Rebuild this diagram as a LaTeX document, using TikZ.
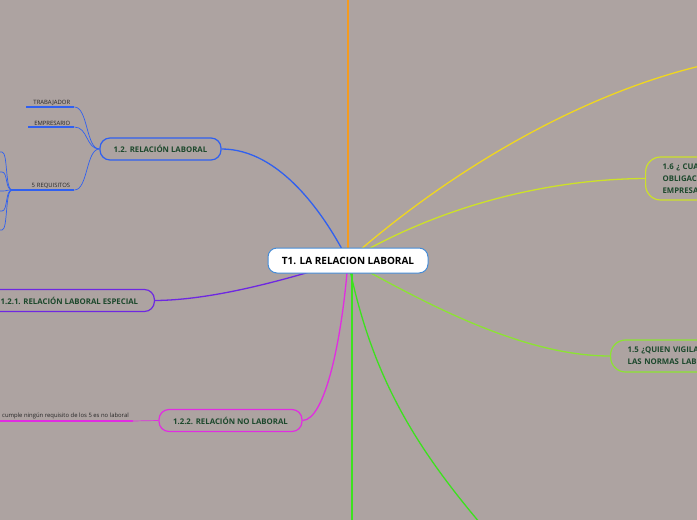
\documentclass[tikz,border=0pt]{standalone}
\usepackage{fontspec}
\setmainfont{Open Sans}
\usetikzlibrary{positioning}
\definecolor{bgcol}{RGB}{173,163,161}
\definecolor{rootblue}{RGB}{70,140,215}
\definecolor{txtgreen}{RGB}{28,72,44}
\definecolor{blueb}{RGB}{48,96,240}
\definecolor{purpleb}{RGB}{110,40,225}
\definecolor{magentab}{RGB}{225,45,225}
\definecolor{orangeb}{RGB}{245,155,30}
\definecolor{greenb}{RGB}{60,225,30}
\definecolor{lightgreenb}{RGB}{140,228,50}
\definecolor{limeb}{RGB}{205,225,40}
\definecolor{yellowb}{RGB}{240,215,30}
\pgfdeclarelayer{bg}
\pgfdeclarelayer{links}
\pgfsetlayers{bg,links,main}

\begin{document}
\begin{tikzpicture}[x=1pt,y=-1pt]
        \tikzstyle{rootnode} = [draw=rootblue, line width=1pt, fill=white, rounded corners=9pt, minimum width=160pt, minimum height=25pt, inner sep=2pt, font=\fontsize{10}{11}\selectfont\bfseries]
        \tikzstyle{bnode} = [line width=1.2pt, rounded corners=10pt, fill=bgcol, text=txtgreen, minimum height=22pt, inner sep=2pt, font=\fontsize{7.8}{8}\selectfont\bfseries]
        \tikzstyle{qnode} = [bnode, anchor=west, align=left, rounded corners=15pt, inner xsep=17pt, text width=100pt, font=\fontsize{7.8}{12}\selectfont\bfseries]
        \tikzstyle{leaf} = [inner xsep=4pt, inner ysep=1.5pt, align=right, text=black!85, font=\fontsize{5.9}{6}\selectfont]
        \tikzstyle{link} = [line width=1.3pt]
        \tikzstyle{sublink} = [blueb, line width=0.7pt]
        \tikzstyle{underline} = [line width=1.2pt]

        \begin{pgfonlayer}{bg}
          \fill[bgcol] (0,0) rectangle (697,520);
        \end{pgfonlayer}
        \useasboundingbox (0,0) rectangle (697,520);

        % central topic and main branches
        \node[rootnode] (root) at (348,260.5) {T1. LA RELACION LABORAL};
        \node[bnode, draw=blueb, minimum width=121pt] (r12) at (160.5,149) {1.2. RELACIÓN LABORAL};
        \node[bnode, draw=purpleb, minimum width=170pt, anchor=east] (r121) at (155,300.5) {1.2.1. RELACIÓN LABORAL ESPECIAL};
        \node[bnode, draw=magentab, minimum width=143pt] (r122) at (230.5,420.5) {1.2.2. RELACIÓN NO LABORAL};
        \node[qnode, draw=limeb, minimum height=43pt] (r16) at (645,178.5) {1.6 ¿ CUA\\OBLIGAC\\EMPRESA};
        \node[qnode, draw=lightgreenb, minimum height=32pt] (r15) at (610,356) {1.5 ¿QUIEN VIGILA\\LAS NORMAS LAB};

        \coordinate (topend) at (348,-3);
        \coordinate (vgend) at (352,523);
        \coordinate (cgend) at (480,523);
        \coordinate (yend) at (700,66);

        % sub topics of 1.2
        \node[leaf, text width=40pt, anchor=south west] (trab) at (26,107) {TRABAJADOR};
        \node[leaf, text width=38pt, anchor=south west] (emp) at (28,127) {EMPRESARIO};
        \node[leaf, text width=54pt, anchor=south west] (req) at (12,190) {5 REQUISITOS};
        \node[leaf, anchor=south east, align=left] (nolab) at (133,421) {cumple ningún requisito de los 5 es no laboral};
        \coordinate (nlend) at (-4,421);

        \draw[underline, blueb] (trab.south west) -- (trab.south east);
        \draw[underline, blueb] (emp.south west) -- (emp.south east);
        \draw[underline, blueb] (req.south west) -- (req.south east);
        \draw[underline, magentab] (nolab.south east) -- (nlend);

        \begin{pgfonlayer}{links}
          \draw[link, orangeb] (root.center) -- (topend);
          \draw[link, greenb] ([xshift=4pt]root.center) -- (vgend);
          \draw[link, greenb] (root.center) .. controls (370,370) and (410,440) .. (cgend);
          \draw[link, blueb] (root.center) .. controls (325,215) and (280,149) .. (r12.east);
          \draw[link, purpleb] (root.center) .. controls (300,275) and (220,300) .. (r121.east);
          \draw[link, magentab] (root.center) .. controls (342,340) and (325,420) .. (r122.east);
          \draw[link, yellowb] (root.center) .. controls (450,170) and (580,95) .. (yend);
          \draw[link, limeb] (root.center) .. controls (450,200) and (560,179) .. (r16.west);
          \draw[link, lightgreenb] (root.center) .. controls (420,300) and (520,356) .. (r15.west);

          \draw[sublink] (r12.west) .. controls (86,149) and (88,107) .. (trab.south east);
          \draw[sublink] (r12.west) .. controls (86,149) and (88,127) .. (emp.south east);
          \draw[sublink] (r12.west) .. controls (86,149) and (88,190) .. (req.south east);
          \foreach \yy [count=\i] in {152,172,191,211,230} {
            \coordinate (rq\i) at (-4,\yy);
            \draw[sublink] (req.south west) .. controls (5,190) and (8,\yy) .. (2,\yy) -- (rq\i);
          }
          \draw[magentab, line width=0.7pt] (r122.west) -- (nolab.south east);
        \end{pgfonlayer}
      \end{tikzpicture}
\end{document}
